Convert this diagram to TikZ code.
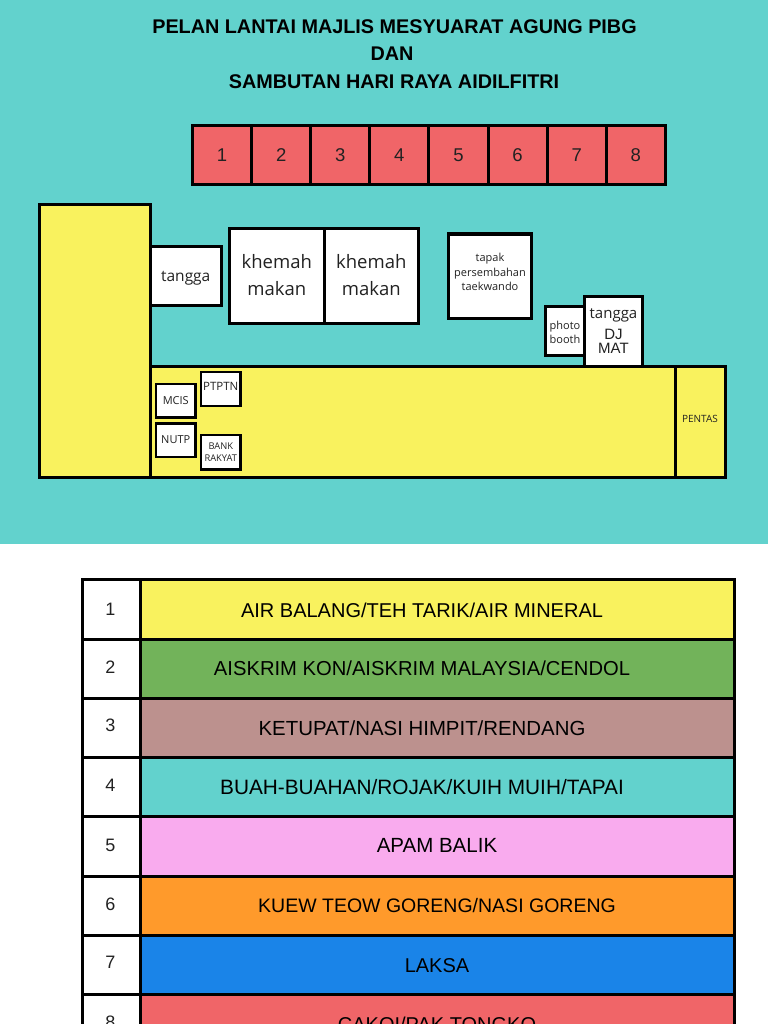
\documentclass[tikz,border=0pt]{standalone}
\usepackage{fontspec}
\setmainfont{Open Sans}
\newfontfamily\capsf{Liberation Sans}
\definecolor{teal}{HTML}{62D2CD}
\definecolor{yel}{HTML}{F9F25E}
\definecolor{red1}{HTML}{F06568}
\definecolor{grn}{HTML}{72B35A}
\definecolor{ros}{HTML}{BC918E}
\definecolor{pnk}{HTML}{F9ABEE}
\definecolor{org}{HTML}{FF9A2B}
\definecolor{blu}{HTML}{1A84E8}
\definecolor{ink}{HTML}{222222}
\newcommand{\fs}[1]{\fontsize{#1}{#1}\selectfont}
\newcommand{\lift}[2]{\raisebox{#1}[0pt][0pt]{#2}}
\tikzset{
 box/.style={draw=black,line width=3pt,inner sep=0pt,outer sep=0pt,align=center,text=ink,anchor=north west},
 thin/.style={box,line width=2.5pt},
 title/.style={font=\capsf\fs{19.8}\bfseries,text=black,inner sep=0pt},
 row/.style={font=\capsf,text=black,inner sep=0pt},
 rownum/.style={font=\capsf\fs{18},text=ink,inner sep=0pt},
}
\newcommand{\bx}[8]{% name, style, fill, x0, y0, x1, y1, text
 \node[#2,fill=#3,minimum width=#6pt-#4pt,minimum height=#7pt-#5pt] (#1) at (#4,#5) {#8};}
\begin{document}
\begin{tikzpicture}[x=1pt,y=-1pt]
\useasboundingbox (0,0) rectangle (768,1024);
\fill[white] (0,0) rectangle (768,1024);
\fill[teal] (0,0) rectangle (768,544);
\node[title] (t1) at (394.5,27) {PELAN LANTAI MAJLIS MESYUARAT AGUNG PIBG};
\node[title] (t2) at (392,54) {DAN};
\node[title] (t3) at (394,82) {SAMBUTAN HARI RAYA AIDILFITRI};
% stalls
\foreach \i [count=\n from 0] in {1,...,8} {
 \pgfmathsetmacro{\xa}{192.5+59.1*\n}
 \pgfmathsetmacro{\xb}{\xa+59.1}
 \bx{s\i}{box}{red1}{\xa}{126}{\xb}{185}{\capsf\fs{18.5}\i}
}
% hall
\bx{hall}{box}{yel}{39.5}{205}{150.5}{477.5}{}
\bx{floor}{box}{yel}{150.5}{366}{675}{477.5}{}
\bx{stage}{box}{yel}{675}{366}{725}{477.5}{\lift{-0.85pt}{\fs{10}PENTAS}}
\bx{tg}{box}{white}{150.5}{246}{221}{305}{\lift{-6pt}{\fs{15.5}tangga}}
\bx{k1}{box}{white}{229.5}{229}{324}{323}{\fs{18.5}\lift{-6.1pt}{\begin{tabular}{@{}c@{}}khemah\\[7pt]makan\end{tabular}}}
\bx{k2}{box}{white}{324}{229}{418.5}{323}{\fs{18.5}\lift{-6.1pt}{\begin{tabular}{@{}c@{}}khemah\\[7pt]makan\end{tabular}}}
\bx{tp}{box}{white}{448.5}{234}{531.5}{318}{\fs{11}\lift{-0.25pt}{\begin{tabular}{@{}c@{}}tapak\\[3pt]persembahan\\[3pt]taekwando\end{tabular}}}
\bx{pb}{box}{white}{545}{306.5}{585}{355.5}{\fs{11}\lift{-5.75pt}{\begin{tabular}{@{}c@{}}photo\\[2pt]booth\end{tabular}}}
\bx{dj}{box}{white}{584.5}{296}{642.5}{366}{\fs{15}\lift{-5.75pt}{\begin{tabular}{@{}c@{}}tangga\\[6pt]{\capsf DJ}\\[-0.5pt]{\capsf MAT}\end{tabular}}}
\bx{mcis}{thin}{white}{156}{384}{195.5}{417.5}{\lift{-4.15pt}{\fs{11}MCIS}}
\bx{nutp}{thin}{white}{156}{423.5}{195.5}{457}{\lift{-3.65pt}{\fs{11}NUTP}}
\bx{ptptn}{thin}{white}{201}{372}{240.5}{406}{\lift{-1pt}{\fs{11.5}PTPTN}}
\bx{bank}{thin}{white}{201}{435}{240.5}{469.5}{\fs{9.3}\lift{-3.3pt}{\begin{tabular}{@{}c@{}}BANK\\[3pt]RAKYAT\end{tabular}}}
% table
\foreach \i/\ya/\yb/\c/\t/\ny/\tx/\ty/\sz in {
 1/579/639/yel/{AIR BALANG/TEH TARIK/AIR MINERAL}/609/422/610/20,
 2/639/698/grn/{AISKRIM KON/AISKRIM MALAYSIA/CENDOL}/667/422/668/20.2,
 3/698/757/ros/{KETUPAT/NASI HIMPIT/RENDANG}/725/422/728/20.4,
 4/757/816/teal/{BUAH-BUAHAN/ROJAK/KUIH MUIH/TAPAI}/785/422/787/20.8,
 5/816/876/pnk/{APAM BALIK}/845/437/845/20.5,
 6/876/935/org/{KUEW TEOW GORENG/NASI GORENG}/904/437/906/19.5,
 7/935/994/blu/{LAKSA}/962/437/966/20,
 8/994/1053/red1/{CAKOI/PAK TONGKO}/1022/437/1024/20} {
 \node[draw=black,line width=3pt,fill=white,inner sep=0pt,outer sep=0pt,minimum width=58pt,minimum height=\yb pt-\ya pt,anchor=north west] (n\i) at (82,\ya) {};
 \node[rownum] (nt\i) at (110.5,\ny) {\i};
 \node[draw=black,line width=3pt,fill=\c,inner sep=0pt,outer sep=0pt,minimum width=594pt,minimum height=\yb pt-\ya pt,anchor=north west] (r\i) at (140,\ya) {};
 \node[row] (rt\i) at (\tx,\ty) {\fs{\sz}\t};
}
\end{tikzpicture}
\end{document}
